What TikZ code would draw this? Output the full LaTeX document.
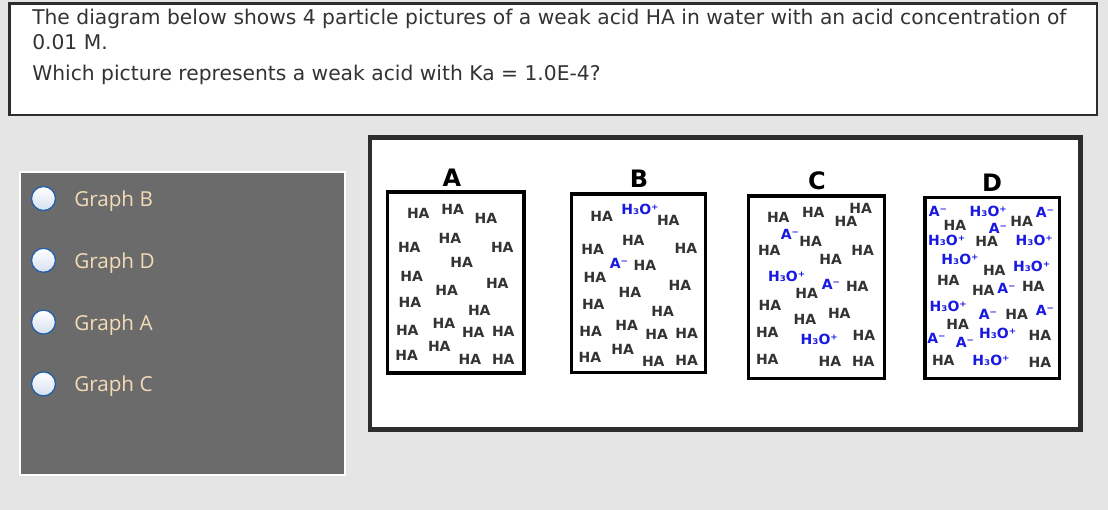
\documentclass[tikz,border=0pt]{standalone}
\usepackage{fontspec}
\setmainfont{DejaVu Sans}
\newfontfamily\optfont{Open Sans}
\definecolor{pagegray}{RGB}{229,229,229}
\definecolor{textgray}{RGB}{51,51,51}
\definecolor{framegray}{RGB}{45,45,45}
\definecolor{panelgray}{RGB}{107,107,107}
\definecolor{peach}{RGB}{245,220,185}
\definecolor{radioblue}{RGB}{35,95,170}
\definecolor{radiofill}{RGB}{214,224,240}
\definecolor{ionblue}{RGB}{25,25,225}

\begin{document}
\begin{tikzpicture}[x=0.75pt,y=0.75pt,yscale=-1,xscale=1,
  ha/.style={inner sep=0pt, font=\fontsize{10.5}{12}\selectfont\bfseries, text=textgray},
  ion/.style={ha, text=ionblue},
  boxtitle/.style={inner sep=0pt, font=\fontsize{18}{20}\selectfont\bfseries},
  question/.style={anchor=base west, inner sep=0pt, font=\fontsize{15.2}{17}\selectfont, text=textgray},
  radio/.style={circle, draw=radioblue, line width=1pt, top color=white, bottom color=radiofill, minimum size=18pt, inner sep=0pt},
  option/.style={anchor=base west, inner sep=0pt, font=\optfont\fontsize{15.5}{18}\selectfont, text=peach},
  picbox/.style={draw=black, line width=2.3pt}
]
\useasboundingbox (0,0) rectangle (1108,510);
\fill[pagegray] (0,0) rectangle (1108,510);

% question
\draw[fill=white, draw=framegray, line width=1.9pt] (9.5,3.5) rectangle (1097,115);
\node[question] (q1) at (32,25) {The diagram below shows 4 particle pictures of a weak acid HA in water with an acid concentration of};
\node[question] (q2) at (32,50) {0.01 M.};
\node[question] (q3) at (32,81) {Which picture represents a weak acid with Ka = 1.0E-4?};

% answer choices
\draw[fill=panelgray, draw=white, line width=1.5pt] (19.5,172) rectangle (344.5,475);
\node[radio] (rb) at (43.5,198.5) {};
\node[radio] (rd) at (43.5,260.3) {};
\node[radio] (ra) at (43.5,322.1) {};
\node[radio] (rc) at (43.5,383.9) {};
\node[option] (ob) at (74,206.5) {Graph B};
\node[option] (od) at (74,268.3) {Graph D};
\node[option] (oa) at (74,330.1) {Graph A};
\node[option] (oc) at (74,391.9) {Graph C};

% particle pictures
\draw[fill=white, draw=framegray, line width=3.4pt] (370,137.3) rectangle (1080.5,429.5);
\draw[picbox] (387.5,192) rectangle (524,373);
\draw[picbox] (571.5,194) rectangle (705.7,372.5);
\draw[picbox] (748.3,196) rectangle (884.3,378.3);
\draw[picbox] (925,197.7) rectangle (1059.3,378.3);
\node[boxtitle] (ta) at (452,177.5) {A};
\node[boxtitle] (tb) at (639,179) {B};
\node[boxtitle] (tc) at (817,180.5) {C};
\node[boxtitle] (td) at (992,182.5) {D};

% picture A
\foreach \px/\py [count=\i] in {418.3/213.3, 452.7/209.3, 486/218.3, 409.3/247.3, 450/238.3,
  502.3/247.3, 461.7/262.7, 411.7/276, 497.3/283.3, 446.7/290, 410/302.7, 479.3/310,
  407.3/330, 444/323.3, 473.3/332.7, 503.3/331.7, 406.7/355, 439.3/346.7, 470/359.3, 503.3/359}
  \node[ha] (a\i) at (\px,\py) {HA};

% picture B
\foreach \px/\py [count=\i] in {601.7/216, 668.3/220.7, 592.7/249.3, 633.3/240, 686/248.3,
  645/265, 595/277.7, 680/285, 630/292.7, 593.3/304, 662.7/311.7, 590.7/331.7, 626.7/325.7,
  656.7/334.3, 686.7/333.3, 590/357.3, 622.7/349.3, 653.3/361, 686.7/360}
  \node[ha] (b\i) at (\px,\py) {HA};
\node[ion] (bh1) at (640,209.3) {H₃O⁺};
\node[ion] (ba1) at (619,263.3) {A⁻};

% picture C
\foreach \px/\py [count=\i] in {778.3/217.3, 813.3/212.7, 846/221.7, 860.7/208.3, 810.7/241.7,
  769.3/250, 862.7/250, 830.7/259.3, 857.3/286, 806.7/293.3, 770/305.7, 805/319.3, 839.3/313.3,
  767.3/332.7, 864/335, 767.3/359.3, 830/361.7, 863.3/361}
  \node[ha] (c\i) at (\px,\py) {HA};
\node[ion] (ca1) at (790,234) {A⁻};
\node[ion] (ch1) at (786.7,276.7) {H₃O⁺};
\node[ion] (ca2) at (831,284.3) {A⁻};
\node[ion] (ch2) at (819.3,339.3) {H₃O⁺};

% picture D
\foreach \px/\py [count=\i] in {955/225, 1021.7/221.7, 986.7/241, 994.3/270, 948.3/280,
  983.3/290, 1033.3/286.7, 1016.7/314, 957.7/324.3, 1040/335, 943.3/360, 1040/362.3}
  \node[ha] (d\i) at (\px,\py) {HA};
\foreach \px/\py/\t [count=\i] in {938/211.7/A⁻, 988.3/211.7/H₃O⁺, 998/228.3/A⁻, 1045/212.7/A⁻,
  946.7/240/H₃O⁺, 1034.3/240/H₃O⁺, 960/259.3/H₃O⁺, 1031.7/266/H₃O⁺, 1006.5/288.3/A⁻,
  948.3/306.7/H₃O⁺, 988/314/A⁻, 1045/310.7/A⁻, 936.5/338.3/A⁻, 965/342.7/A⁻,
  997.7/333.3/H₃O⁺, 991/360/H₃O⁺}
  \node[ion] (di\i) at (\px,\py) {\t};
\end{tikzpicture}
\end{document}
